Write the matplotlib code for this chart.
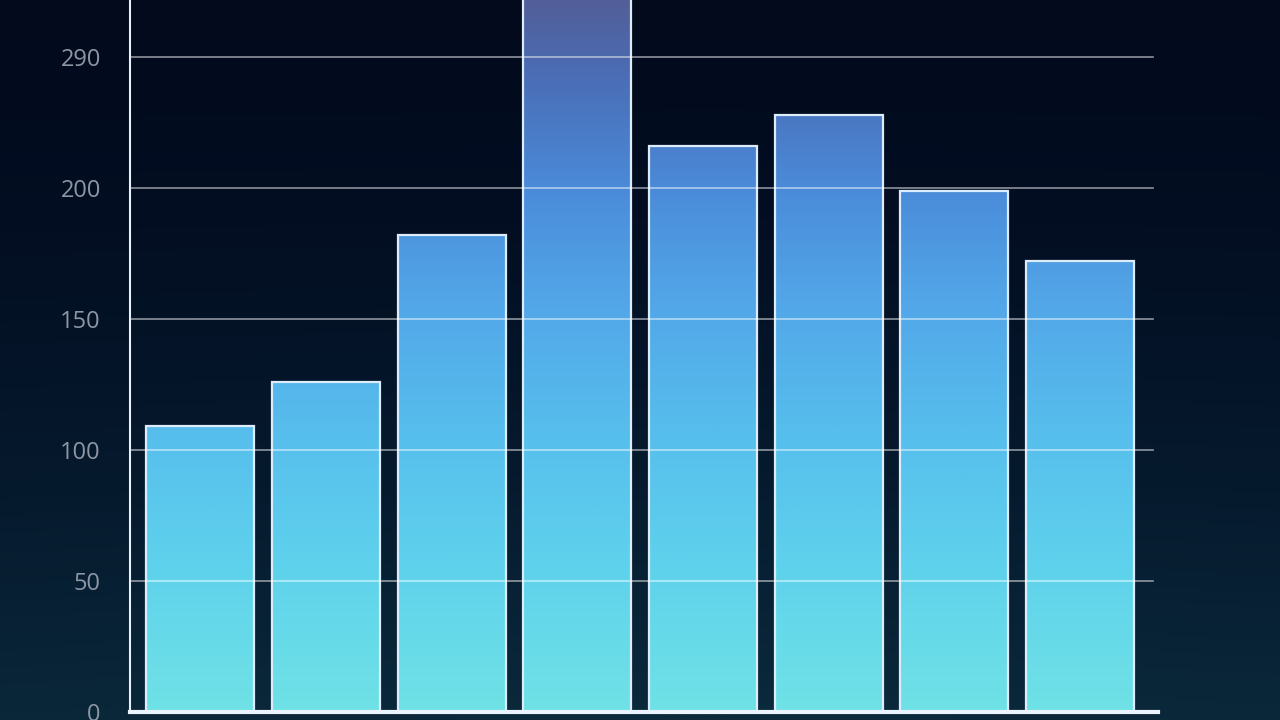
import numpy as np
import matplotlib
matplotlib.use("Agg")
import matplotlib.pyplot as plt
from matplotlib.colors import LinearSegmentedColormap

# ---- data ----
categories = ["A", "B", "C", "D", "E", "F", "G", "H"]
values = [109, 126, 182, 290, 216, 228, 199, 172]
ytick_values = [0, 50, 100, 150, 200, 250]
ytick_labels = ["0", "50", "100", "150", "200", "290"]

plt.rcParams['font.family'] = ['Open Sans', 'DejaVu Sans']

fig = plt.figure(figsize=(12.8, 7.2), dpi=100)

# background gradient
bg = fig.add_axes([0, 0, 1, 1], zorder=-10)
bg_cmap = LinearSegmentedColormap.from_list(
    "bg", [(0.0, "#0b2a3c"), (0.35, "#061a2e"), (0.7, "#030e22"), (1.0, "#020a1c")])
gy = np.linspace(0, 1, 256).reshape(-1, 1)
gx = np.linspace(0, 1, 256).reshape(1, -1)
grad = gy + 0.12 * np.abs(gx - 0.55) * (1 - gy)
bg.imshow(grad, cmap=bg_cmap, aspect="auto", origin="lower", extent=[0, 1, 0, 1],
          vmin=0, vmax=1)
bg.set_axis_off()

ax = fig.add_axes([130 / 1280, 8 / 720, 1028 / 1280, 712 / 720])
ax.set_facecolor("none")

x = np.arange(len(categories))
ymax = 271.8

bar_cmap = LinearSegmentedColormap.from_list(
    "bars", [(0.0, "#6fe2e6"), (0.2, "#5fd2ec"), (0.4, "#56bdec"),
             (0.58, "#52a6e8"), (0.74, "#4a8ad8"), (0.9, "#4b6cb4"), (1.0, "#525e98")])

bars = ax.bar(x, values, width=0.86, facecolor="none", edgecolor="#dcecfb",
              linewidth=1.6, zorder=3)
vgrad = np.linspace(0, 1, 512).reshape(-1, 1)
for b in bars:
    im = ax.imshow(vgrad, cmap=bar_cmap, aspect="auto", origin="lower",
                   extent=[b.get_x(), b.get_x() + b.get_width(), 0, ymax],
                   zorder=1, vmin=0, vmax=1)
    im.set_clip_path(b)
ax.set_xlim(-0.56, len(categories) - 1 + 0.62)
ax.set_ylim(0, ymax)

# grid
for yv in ytick_values[1:]:
    ax.axhline(yv, xmax=0.995, color="#ffffff", alpha=0.55, linewidth=1.2, zorder=4)

ax.set_yticks(ytick_values)
ax.set_yticklabels(ytick_labels)
ax.set_xticks([])
ax.tick_params(axis="y", length=0, pad=21, labelsize=17, labelcolor="#8d96a4")

for s in ["top", "right"]:
    ax.spines[s].set_visible(False)
ax.spines["left"].set_color("#e8f0fa")
ax.spines["left"].set_linewidth(1.5)
ax.spines["bottom"].set_color("#eaf4ff")
ax.spines["bottom"].set_linewidth(3)
ax.spines["left"].set_zorder(5)
ax.spines["bottom"].set_zorder(5)

fig.savefig("out.png", dpi=100)
